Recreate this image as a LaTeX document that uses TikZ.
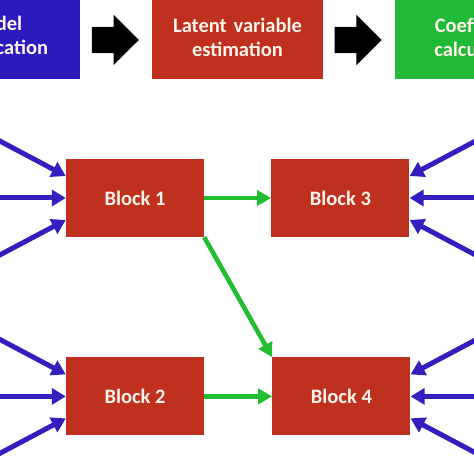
\documentclass[tikz,border=0pt]{standalone}
\usepackage{fontspec}
\setmainfont{Carlito}
\usetikzlibrary{positioning, shapes.arrows, arrows.meta}

\definecolor{stageblue}{RGB}{43,27,189}
\definecolor{stagered}{RGB}{191,49,30}
\definecolor{stagegreen}{RGB}{33,186,56}
\definecolor{linkblue}{RGB}{52,30,190}
\definecolor{linkgreen}{RGB}{34,190,50}
\definecolor{boxtext}{RGB}{255,244,236}

\begin{document}
\begin{tikzpicture}[x=1pt, y=1pt,
  stage/.style={rectangle, fill=#1, minimum width=171.5pt, minimum height=84pt, text width=160pt, align=center, text=boxtext, font=\fontsize{20.5}{24}\selectfont\bfseries, inner sep=0pt},
  block/.style={rectangle, fill=stagered, minimum width=138pt, minimum height=78pt, text=boxtext, font=\fontsize{20.5}{24}\selectfont\bfseries},
  bigarrow/.style={single arrow, fill=black, minimum height=47pt, single arrow head extend=12pt, inner xsep=0pt, inner ysep=13pt, text height=0pt, text depth=0pt},
  inarrow/.style={-{Triangle[length=14pt, width=16pt]}, line width=5pt, linkblue},
  outarrow/.style={-{Triangle[length=14pt, width=15pt]}, line width=4.6pt, linkgreen}]

\useasboundingbox (0,0) rectangle (474,474);

% Stage nodes
\node[stage=stagered] (latent) at (237.5,437) {Latent variable\\estimation};
\node[stage=stageblue, left=71pt of latent] (model) {Model\\specification};
\node[stage=stagegreen, right=71pt of latent] (coef) {Coefficient\\calculation};

% Stage arrows
\node[bigarrow, right=11pt of model.east, yshift=-3pt, anchor=west] (next1) {};
\node[bigarrow, right=11pt of latent.east, yshift=-3pt, anchor=west] (next2) {};

% Block nodes
\node[block] (block1) at (135,276) {Block 1};
\node[block, right=67pt of block1] (block3) {Block 3};
\node[block, below=120pt of block1] (block2) {Block 2};
\node[block, right=68pt of block2] (block4) {Block 4};

% Block connections
\draw[outarrow] (block1) -- (block3);
\draw[outarrow] (block1.south east) -- (block4.north west);
\draw[outarrow] (block2) -- (block4);

% Inputs
\foreach \b in {block1, block2} {
  \foreach \e/\s/\i in {22/67.6/1, 0/0/2, -22/-67.6/3} {
    \coordinate (\b-in\i) at ([shift={(-86pt,\s pt)}]\b.west);
    \draw[inarrow] (\b-in\i) -- ([yshift=\e pt]\b.west);
  }
}
\foreach \b in {block3, block4} {
  \foreach \e/\s/\i in {22/67.6/1, 0/0/2, -22/-67.6/3} {
    \coordinate (\b-in\i) at ([shift={(86pt,\s pt)}]\b.east);
    \draw[inarrow] (\b-in\i) -- ([yshift=\e pt]\b.east);
  }
}

\end{tikzpicture}
\end{document}
